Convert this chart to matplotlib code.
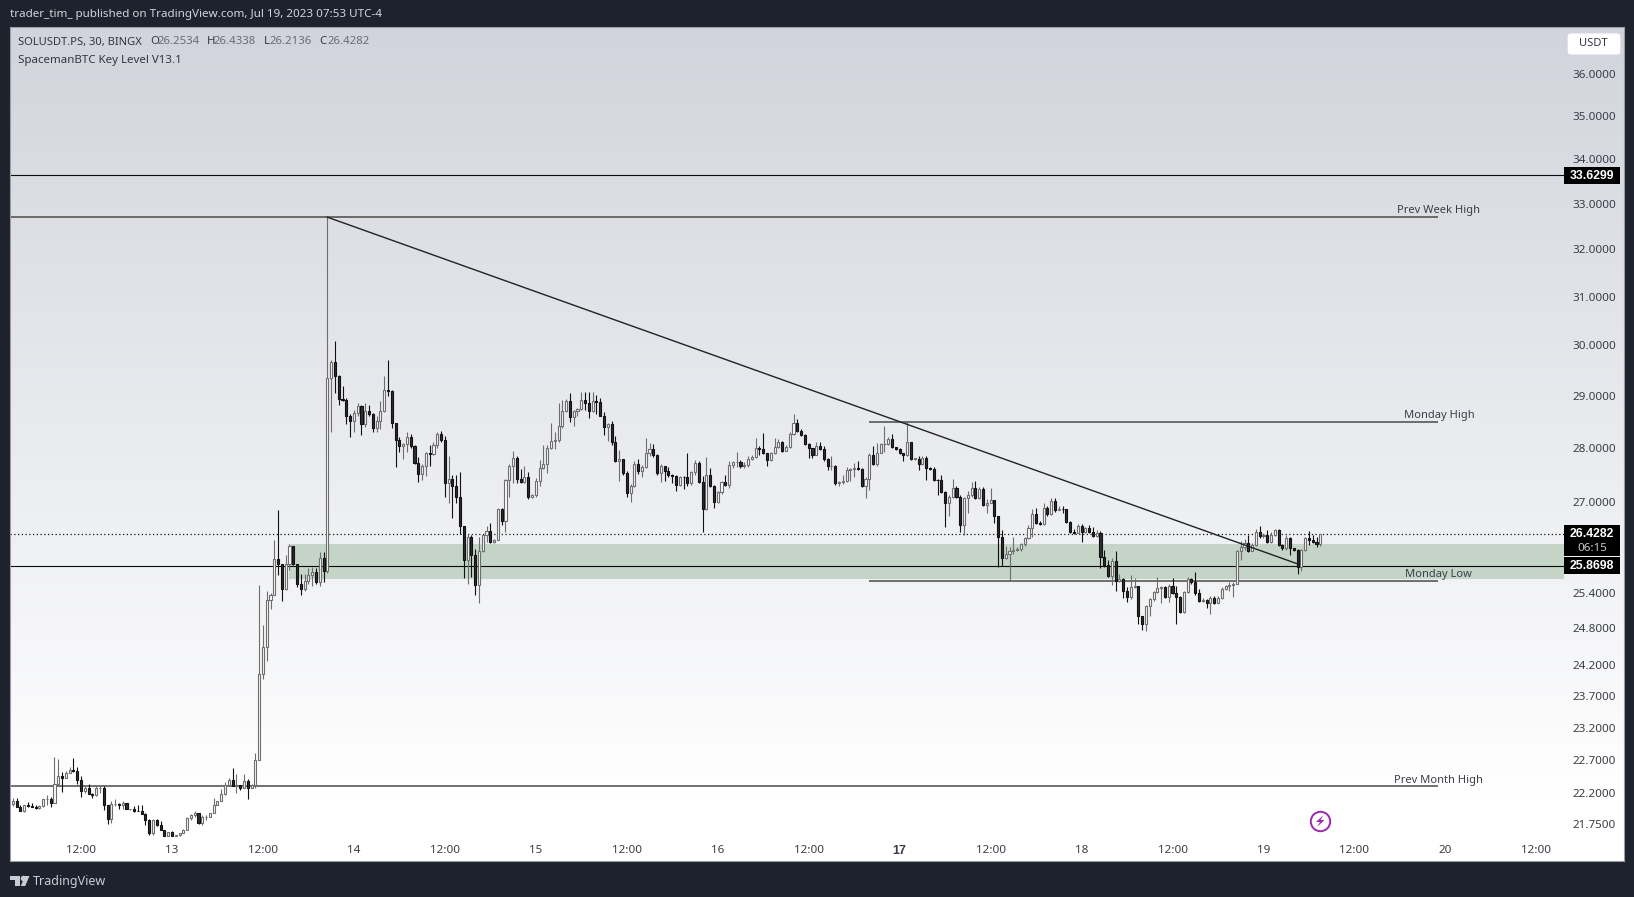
import numpy as np
from matplotlib import pyplot as plt
from matplotlib.patches import FancyBboxPatch, Polygon, Rectangle
from matplotlib.ticker import NullFormatter, NullLocator

W, H = 1634, 897
plt.rcParams['font.family'] = ['Noto Sans', 'DejaVu Sans']

first_open = 22.04
closes = [
    22.08, 22.0, 21.93, 22.02, 22.01, 22.0, 21.98, 22.01, 22.11, 22.12,
    22.05, 22.33, 22.46, 22.43, 22.5, 22.55, 22.54, 22.39, 22.23, 22.28,
    22.19, 22.17, 22.27, 22.27, 22.02, 21.82, 22.04, 22.04, 22.02, 22.05,
    21.96, 21.96, 21.94, 21.93, 21.89, 21.81, 21.61, 21.8, 21.73, 21.66,
    21.57, 21.63, 21.57, 21.58, 21.61, 21.66, 21.83, 21.87, 21.9, 21.76,
    21.85, 21.85, 21.9, 22.03, 22.08, 22.18, 22.32, 22.4, 22.3, 22.32,
    22.27, 22.38, 22.27, 22.32, 22.7, 24.05, 24.5, 25.28, 25.37, 25.99,
    25.9, 25.47, 25.9, 26.22, 25.9, 25.56, 25.46, 25.6, 25.7, 25.76,
    25.58, 26.0, 25.78, 29.35, 29.66, 29.39, 28.93, 28.92, 28.6, 28.52,
    28.66, 28.8, 28.45, 28.7, 28.65, 28.37, 28.52, 28.7, 29.11, 29.1,
    28.47, 28.15, 28.03, 28.08, 28.2, 28.03, 27.72, 27.51, 27.67, 27.9,
    27.89, 28.06, 28.26, 28.15, 27.34, 27.42, 27.29, 27.1, 26.57, 25.97,
    26.38, 26.06, 25.53, 26.13, 26.41, 26.48, 26.28, 26.32, 26.87, 26.66,
    27.41, 27.66, 27.81, 27.42, 27.37, 27.46, 27.1, 27.12, 27.38, 27.63,
    27.69, 28.0, 28.14, 28.15, 28.42, 28.7, 28.89, 28.58, 28.7, 28.74,
    28.91, 28.86, 28.7, 28.9, 28.88, 28.61, 28.39, 28.45, 28.11, 27.75,
    27.8, 27.53, 27.16, 27.3, 27.7, 27.57, 27.64, 27.9, 27.98, 27.87,
    27.53, 27.66, 27.57, 27.5, 27.48, 27.32, 27.46, 27.45, 27.34, 27.55,
    27.72, 27.36, 26.87, 27.5, 27.3, 27.0, 27.18, 27.36, 27.32, 27.68,
    27.74, 27.74, 27.67, 27.68, 27.8, 27.83, 27.99, 27.98, 27.9, 27.77,
    27.9, 28.02, 28.12, 27.95, 28.02, 28.26, 28.47, 28.32, 28.24, 28.07,
    27.99, 27.87, 28.03, 27.98, 27.8, 27.66, 27.66, 27.34, 27.37, 27.39,
    27.58, 27.6, 27.62, 27.6, 27.3, 27.43, 27.87, 27.7, 27.91, 28.07,
    28.07, 28.17, 28.01, 27.98, 27.9, 27.87, 28.11, 27.8, 27.8, 27.7,
    27.82, 27.63, 27.6, 27.41, 27.4, 27.18, 26.98, 27.1, 27.26, 27.1,
    26.58, 27.07, 27.12, 27.25, 27.07, 27.24, 26.95, 26.99, 27.03, 26.75,
    26.38, 26.0, 26.07, 26.13, 26.15, 26.16, 26.24, 26.35, 26.53, 26.78,
    26.63, 26.6, 26.9, 26.78, 27.02, 26.86, 26.88, 26.87, 26.64, 26.47,
    26.44, 26.56, 26.46, 26.53, 26.47, 26.39, 26.45, 26.02, 25.88, 25.69,
    25.95, 25.61, 25.63, 25.44, 25.33, 25.5, 25.51, 25.0, 24.87, 25.17,
    25.29, 25.41, 25.49, 25.5, 25.33, 25.52, 25.4, 25.33, 25.08, 25.41,
    25.64, 25.58, 25.39, 25.27, 25.28, 25.23, 25.32, 25.23, 25.32, 25.47,
    25.52, 25.53, 25.55, 26.13, 26.2, 26.26, 26.13, 26.23, 26.47, 26.39,
    26.4, 26.28, 26.41, 26.49, 26.23, 26.17, 26.36, 26.18, 26.15, 25.85,
    26.14, 26.35, 26.32, 26.29, 26.2534, 26.4282,
]
highs = [
    22.13, 22.13, 22.02, 22.03, 22.07, 22.05, 22.02, 22.03, 22.12, 22.17,
    22.15, 22.75, 22.71, 22.52, 22.53, 22.6, 22.73, 22.6, 22.46, 22.3,
    22.34, 22.2, 22.3, 22.3, 22.3, 22.02, 22.08, 22.12, 22.06, 22.09,
    22.05, 21.97, 22.01, 22.03, 22.02, 21.9, 21.82, 21.82, 21.82, 21.79,
    21.66, 21.63, 21.64, 21.59, 21.62, 21.67, 21.84, 21.89, 21.94, 21.9,
    21.87, 21.88, 21.91, 22.13, 22.09, 22.26, 22.36, 22.42, 22.58, 22.49,
    22.32, 22.49, 22.41, 22.33, 22.8, 25.54, 24.85, 25.44, 25.4, 26.32,
    26.85, 25.9, 26.05, 26.24, 26.22, 25.9, 25.72, 25.72, 25.82, 25.84,
    25.82, 26.1, 26.1, 32.7, 29.7, 30.08, 29.4, 29.2, 28.95, 28.65,
    28.72, 28.85, 28.82, 28.86, 28.82, 28.66, 28.6, 28.9, 29.38, 29.7,
    29.12, 28.47, 28.2, 28.1, 28.31, 28.27, 28.05, 27.83, 27.7, 27.92,
    28.06, 28.12, 28.3, 28.32, 28.22, 27.84, 27.5, 27.5, 27.55, 26.56,
    26.42, 26.41, 26.16, 26.37, 26.41, 26.56, 26.63, 26.33, 26.9, 26.9,
    27.43, 27.7, 27.95, 27.85, 27.6, 27.67, 27.55, 27.14, 27.44, 27.78,
    28.05, 28.05, 28.47, 28.3, 28.85, 28.92, 28.94, 29.06, 28.73, 28.77,
    29.08, 29.08, 29.08, 29.08, 29.02, 28.95, 28.68, 28.47, 28.51, 28.22,
    27.97, 27.8, 27.56, 27.33, 27.75, 27.8, 27.68, 28.18, 28.1, 28.07,
    27.89, 27.7, 27.67, 27.65, 27.52, 27.5, 27.48, 27.47, 27.9, 27.57,
    27.77, 27.75, 27.47, 27.83, 27.63, 27.32, 27.2, 27.38, 27.5, 27.75,
    27.75, 27.93, 27.77, 27.73, 27.84, 27.87, 28.18, 28.04, 28.28, 27.91,
    27.93, 28.19, 28.17, 28.14, 28.05, 28.3, 28.65, 28.55, 28.36, 28.27,
    28.1, 28.0, 28.11, 28.11, 28.04, 27.81, 27.84, 27.68, 27.38, 27.5,
    27.64, 27.62, 27.72, 27.76, 27.63, 27.45, 27.9, 28.04, 28.1, 28.09,
    28.42, 28.2, 28.26, 28.02, 28.0, 27.91, 28.5, 28.12, 27.82, 27.84,
    27.84, 27.84, 27.64, 27.65, 27.42, 27.5, 27.2, 27.12, 27.42, 27.3,
    27.13, 27.1, 27.2, 27.36, 27.38, 27.28, 27.28, 27.05, 27.25, 27.03,
    26.75, 26.5, 26.22, 26.2, 26.38, 26.2, 26.27, 26.38, 26.58, 26.88,
    26.9, 26.65, 26.98, 26.93, 27.08, 27.08, 26.93, 26.93, 26.87, 26.65,
    26.52, 26.6, 26.6, 26.55, 26.58, 26.55, 26.5, 26.48, 26.14, 25.97,
    26.0, 26.12, 25.72, 25.65, 25.5, 25.7, 25.65, 25.52, 25.01, 25.2,
    25.31, 25.44, 25.68, 25.52, 25.52, 25.55, 25.65, 25.51, 25.35, 25.44,
    25.67, 25.66, 25.76, 25.47, 25.32, 25.3, 25.35, 25.34, 25.35, 25.5,
    25.53, 25.58, 25.58, 26.15, 26.3, 26.34, 26.41, 26.27, 26.52, 26.57,
    26.42, 26.5, 26.47, 26.52, 26.52, 26.25, 26.4, 26.37, 26.18, 26.16,
    26.16, 26.38, 26.48, 26.41, 26.38, 26.4338,
]
lows = [
    22.01, 22.0, 21.93, 21.92, 22.0, 21.99, 21.96, 21.97, 22.0, 22.03,
    21.99, 22.05, 22.33, 22.21, 22.42, 22.5, 22.52, 22.33, 22.14, 22.2,
    22.18, 22.13, 22.16, 22.2, 21.95, 21.75, 21.76, 22.01, 21.96, 21.96,
    21.96, 21.95, 21.92, 21.93, 21.89, 21.73, 21.58, 21.58, 21.71, 21.66,
    21.57, 21.57, 21.57, 21.57, 21.57, 21.61, 21.66, 21.8, 21.85, 21.75,
    21.73, 21.81, 21.85, 21.9, 22.03, 22.08, 22.17, 22.32, 22.3, 22.2,
    22.24, 22.27, 22.11, 22.27, 22.27, 22.7, 23.97, 24.27, 25.12, 25.37,
    25.7, 25.27, 25.45, 25.8, 25.88, 25.5, 25.37, 25.44, 25.55, 25.52,
    25.56, 25.52, 25.58, 25.75, 28.3, 29.05, 28.82, 28.9, 28.45, 28.2,
    28.3, 28.6, 28.24, 28.4, 28.6, 28.3, 28.3, 28.36, 28.68, 29.0,
    28.38, 27.64, 27.93, 27.8, 27.92, 28.0, 27.69, 27.37, 27.4, 27.47,
    27.67, 27.87, 28.0, 28.12, 27.1, 26.99, 26.72, 26.99, 26.43, 25.65,
    25.56, 25.68, 25.37, 25.22, 26.1, 26.29, 26.26, 26.26, 26.32, 26.58,
    26.46, 27.1, 27.34, 27.35, 27.34, 27.35, 27.05, 27.08, 27.1, 27.3,
    27.6, 27.53, 27.98, 27.98, 28.12, 28.37, 28.68, 28.49, 28.42, 28.6,
    28.72, 28.73, 28.56, 28.68, 28.65, 28.6, 28.25, 28.13, 28.05, 27.74,
    27.39, 27.5, 27.1, 27.0, 27.28, 27.52, 27.45, 27.62, 27.85, 27.83,
    27.5, 27.37, 27.38, 27.46, 27.35, 27.2, 27.3, 27.24, 27.3, 27.32,
    27.5, 27.35, 26.46, 26.85, 27.28, 26.9, 26.98, 27.15, 27.3, 27.26,
    27.62, 27.65, 27.62, 27.62, 27.65, 27.78, 27.81, 27.87, 27.88, 27.66,
    27.75, 27.88, 28.0, 27.92, 27.94, 28.0, 28.24, 28.3, 28.22, 28.05,
    27.81, 27.82, 27.86, 27.96, 27.75, 27.59, 27.59, 27.32, 27.3, 27.33,
    27.37, 27.38, 27.45, 27.58, 27.28, 27.07, 27.22, 27.68, 27.67, 27.9,
    27.93, 28.05, 27.99, 27.96, 27.88, 27.75, 27.85, 27.78, 27.78, 27.58,
    27.68, 27.4, 27.58, 27.39, 27.13, 27.16, 26.55, 26.75, 27.08, 27.08,
    26.46, 26.4, 26.8, 27.1, 27.05, 27.05, 26.93, 26.8, 26.98, 26.62,
    25.85, 25.87, 25.98, 25.6, 26.07, 26.12, 26.13, 26.22, 26.33, 26.38,
    26.6, 26.58, 26.58, 26.75, 26.76, 26.82, 26.85, 26.8, 26.62, 26.45,
    26.43, 26.44, 26.28, 26.45, 26.45, 26.37, 26.38, 25.82, 25.85, 25.67,
    25.53, 25.43, 25.58, 25.32, 25.25, 25.3, 25.49, 24.87, 24.77, 24.75,
    25.01, 25.27, 25.4, 25.22, 25.31, 25.25, 25.38, 24.88, 25.06, 25.06,
    25.39, 25.56, 25.37, 25.25, 25.25, 25.14, 25.05, 25.21, 25.22, 25.3,
    25.45, 25.43, 25.33, 25.55, 25.97, 26.15, 26.11, 26.12, 26.22, 26.36,
    26.35, 26.26, 26.26, 26.39, 26.21, 26.15, 26.15, 26.06, 26.13, 25.73,
    25.78, 26.13, 26.23, 26.27, 26.2, 26.2136,
]
assert len(closes) == len(highs) == len(lows) == 346

price_ticks = [36, 35, 34, 33, 32, 31, 30, 29, 28, 27, 25.4, 24.8, 24.2, 23.7, 23.2, 22.7, 22.2, 21.75]
time_ticks = [18, 42, 66, 90, 114, 138, 162, 186, 210, 234, 258, 282, 306, 330, 354, 378, 402]
time_labels = ['12:00', '13', '12:00', '14', '12:00', '15', '12:00', '16', '12:00', '17', '12:00', '18', '12:00', '19', '12:00', '20', '12:00']

last_price = 26.4282
top_line = 33.6299
mid_line = 25.8698
prev_week_high = 32.7
prev_month_high = 22.3
monday_high = 28.5
monday_low = 25.61
zone_top = 26.24
zone_bottom = 25.63
trend_x = [83, 339]
trend_y = [32.7, 25.9]

DARK = '#1e222d'
TEXT = '#3a3d45'
BOLD_FONT = 'Liberation Sans'


def px(x, y):
    return x / W, 1 - y / H


opens = [first_open] + closes[:-1]
xs = np.arange(len(closes))
o, c, h, l = np.array(opens), np.array(closes), np.array(highs), np.array(lows)
up = c >= o

fig = plt.figure(figsize=(W / 100, H / 100), dpi=100, facecolor=DARK)
pos = [10 / W, 1 - 861 / H, (1623.5 - 10) / W, (861 - 27) / H]

# background gradient sits in its own axes because the price axis is log
bg = fig.add_axes(pos, zorder=0)
grad = np.linspace(0, 1, 256)[:, None]
top_col = np.array([209, 212, 220]) / 255
rgb = (top_col + (1 - top_col) * np.clip(grad * 1.08, 0, 1)[:, :, None]).reshape(256, 1, 3)
bg.imshow(rgb, aspect='auto', extent=[0, 1, 0, 1], origin='upper')
bg.axis('off')

ax = fig.add_axes(pos, zorder=1)
ax.patch.set_visible(False)
ax.set_yscale('log')
x_left = -0.74
ax.set_xlim(x_left, 425.0)
ax.set_ylim(21.21, 37.16)
right_end = 409.3
line_end = 376

ax.fill_between([72.8, right_end], zone_bottom, zone_top, color='#c4d4c7', lw=0, zorder=1)

ax.hlines(last_price, x_left, right_end, color='#111111', lw=0.9, linestyles=(0, (1, 2)), zorder=2)
ax.hlines([top_line, mid_line], x_left, right_end, color='#0a0a0a', lw=0.8, zorder=2)
ax.hlines([prev_week_high, prev_month_high], x_left, line_end, color='#4a4a4a', lw=1.1, zorder=2)
ax.hlines([monday_high, monday_low], 226, line_end, color='#4a4a4a', lw=1.1, zorder=2)

# candles
ax.vlines(xs[up], l[up], h[up], color='#6e6e6e', lw=0.8, zorder=3)
ax.vlines(xs[~up], l[~up], h[~up], color='#111111', lw=0.8, zorder=3)
ax.bar(xs[up], np.maximum(c[up] - o[up], 0.004), bottom=o[up], width=0.55, facecolor='#fbfbfb', edgecolor='#6e6e6e', lw=0.8, zorder=4)
ax.bar(xs[~up], o[~up] - c[~up], bottom=c[~up], width=0.55, facecolor='#2e2e2e', edgecolor='#111111', lw=0.8, zorder=4)

ax.plot(trend_x, trend_y, color='#222222', lw=1.0, zorder=5)

for price, label in [(prev_week_high, 'Prev Week High'), (monday_high, 'Monday High'),
                     (monday_low, 'Monday Low'), (prev_month_high, 'Prev Month High')]:
    ax.annotate(label, (line_end + 0.3, price), xytext=(0, 4.5), textcoords='offset points',
                ha='center', va='center', fontsize=8.0, color='#3c3f46', zorder=6)

ax.yaxis.set_major_locator(plt.FixedLocator(price_ticks))
ax.yaxis.set_major_formatter(plt.FixedFormatter(['{:.4f}'.format(v) for v in price_ticks]))
ax.yaxis.set_minor_locator(NullLocator())
ax.yaxis.set_minor_formatter(NullFormatter())
ax.tick_params(axis='y', which='both', left=False, labelleft=False, right=False, labelright=True,
               length=0, pad=-37, labelsize=8.4, labelcolor=TEXT)
ax.set_xticks(time_ticks)
ax.set_xticklabels(time_labels)
ax.tick_params(axis='x', length=0, pad=-11.8, labelsize=8.4, labelcolor=TEXT)
for tl, lab in zip(ax.get_xticklabels(), time_labels):
    if lab == '17':
        tl.set_fontweight('bold')
        tl.set_family(BOLD_FONT)
        tl.set_fontsize(9)
for s in ax.spines.values():
    s.set_color('#9a9da5')
    s.set_linewidth(0.8)

# price tags on the scale
ax.figure.canvas.draw()


def tag(price, label, height=17, extra=None):
    yc = H - ax.transData.transform((0, price))[1]
    fig.add_artist(Rectangle(px(1564, yc + height - 8.5), 56 / W, height / H, transform=fig.transFigure,
                             fc='black', ec='none', zorder=5))
    fig.text(*px(1592, yc + 0.5), label, color='white', fontsize=8.8, fontweight='bold', family=BOLD_FONT,
             ha='center', va='center', zorder=6)
    if extra:
        fig.text(*px(1592, yc + 14.5), extra, color='#c8c8c8', fontsize=8.4, ha='center', va='center', zorder=6)


tag(top_line, '33.6299')
tag(last_price, '26.4282', height=31, extra='06:15')
tag(mid_line, '25.8698')

# header texts
fig.text(*px(10, 15), 'trader_tim_ published on TradingView.com, Jul 19, 2023 07:53 UTC-4',
         color='#d1d4dc', fontsize=8.38, va='center', zorder=6)
fig.text(*px(18, 42), 'SOLUSDT.PS, 30, BINGX', color='#33363d', fontsize=8.05, va='center', zorder=6)
for x, letter, x2, val in [(150, 'O', 157, '26.2534'), (206.5, 'H', 214, '26.4338'),
                           (264, 'L', 270, '26.2136'), (319, 'C', 327, '26.4282')]:
    fig.text(*px(x, 42), letter, color='#33363d', fontsize=8.2, va='center', zorder=6)
    fig.text(*px(x2, 42), val, color='#6a6d75', fontsize=8.2, va='center', zorder=6)
fig.text(*px(18, 60), 'SpacemanBTC Key Level V13.1', color='#33363d', fontsize=8.3, va='center', zorder=6)

# currency button
fig.add_artist(FancyBboxPatch(px(1570, 53), 48 / W, 18 / H, boxstyle='round,pad=0.001,rounding_size=0.002',
                              transform=fig.transFigure, fc='white', ec='white', lw=1, zorder=5))
fig.text(*px(1593, 44), 'USDT', color='#33363d', fontsize=8.0, ha='center', va='center', zorder=6)

# purple bolt badge
fig.add_artist(plt.Line2D([1320 / W], [1 - 821 / H], marker='o', ms=14, mfc='white', mec='#9c27b0', mew=1.4,
                          transform=fig.transFigure, zorder=5))
fig.add_artist(Polygon([px(*p) for p in [(1323.5, 815), (1316, 822), (1320, 822), (1317, 827), (1324.5, 820), (1320.5, 820)]],
                       closed=True, transform=fig.transFigure, fc='#9c27b0', ec='none', zorder=6))

# TradingView logo
logo = '#c9ccd4'
fig.add_artist(Polygon([px(*p) for p in [(10, 876), (20, 876), (20, 886), (15, 886), (15, 880), (10, 880)]],
                       closed=True, transform=fig.transFigure, fc=logo, ec='none', zorder=6))
fig.add_artist(plt.Line2D([22.8 / W], [1 - 878 / H], marker='o', ms=3, mfc=logo, mec=logo,
                          transform=fig.transFigure, zorder=6))
fig.add_artist(Polygon([px(*p) for p in [(25, 876), (29.5, 876), (25.2, 886), (20.8, 886)]],
                       closed=True, transform=fig.transFigure, fc=logo, ec='none', zorder=6))
fig.text(*px(33, 881), 'TradingView', color='#c9ccd4', fontsize=9.0, va='center', zorder=6)

fig.savefig('out.png', dpi=100, facecolor=DARK)
